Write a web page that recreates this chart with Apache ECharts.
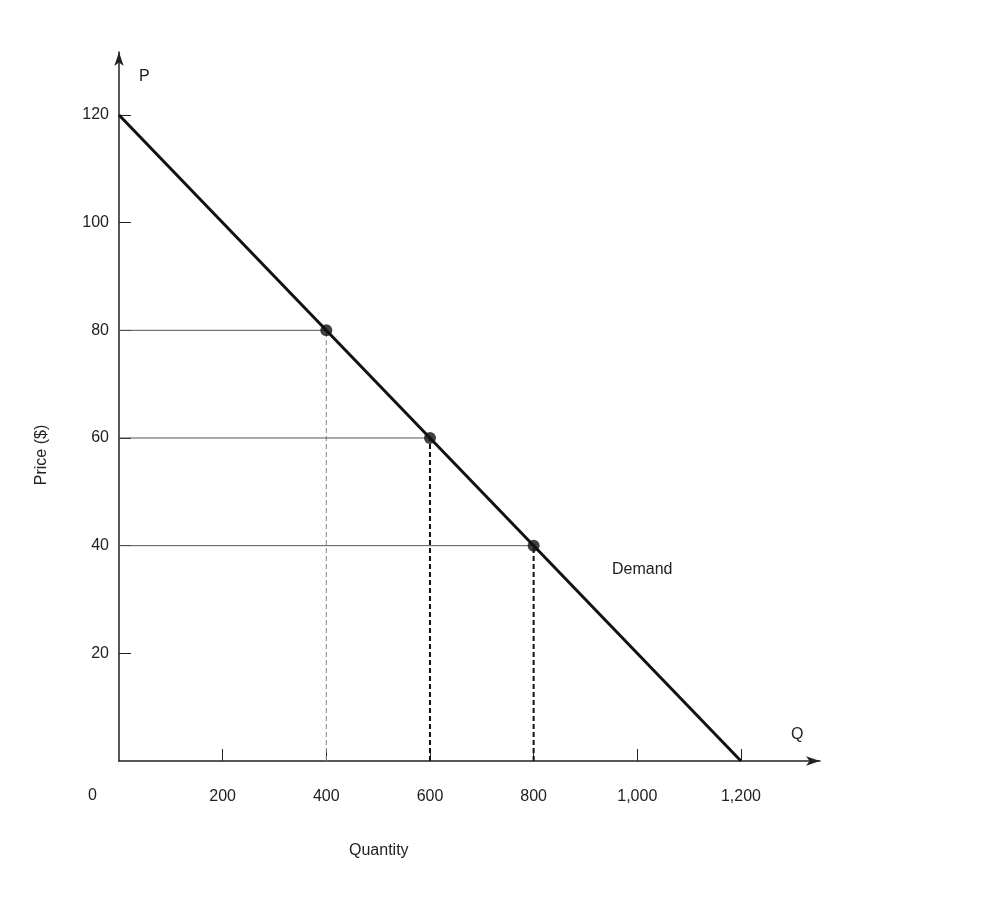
<!DOCTYPE html>
<html><head><meta charset="utf-8">
<script src="https://cdn.jsdelivr.net/npm/echarts@6/dist/echarts.min.js"></script>
<style>html,body{margin:0;padding:0;background:#fff}#c{width:983px;height:912px}</style>
</head><body><div id="c"></div>
<script>
const demand = [[0,120],[1200,0]];
const points = [[400,80],[600,60],[800,40]];
const xTicks = [200,400,600,800,1000,1200];
const yTicks = [20,40,60,80,100,120];
const F = 'Liberation Sans, Arial, sans-serif';
const series = [];
points.forEach((p,i)=>{
  series.push({type:'line',data:[[0,p[1]],p],symbol:'none',lineStyle:{color:'#555',width:1},z:1});
  series.push({type:'line',data:[[p[0],0],p],symbol:'none',lineStyle:{color:i===0?'#888':'#111',width:i===0?1:2,type:[5,3]},z:1});
});
series.push({type:'line',data:demand,symbol:'none',lineStyle:{color:'#111',width:3},z:2});
series.push({type:'scatter',data:points,symbolSize:12,itemStyle:{color:'#111'},z:3});
const chart = echarts.init(document.getElementById('c'));
chart.setOption({
  animation:false,
  grid:{left:119,top:52,width:701,height:709},
  xAxis:{type:'value',min:0,max:1352.5,splitLine:{show:false},
    axisLine:{symbol:['none','arrow'],symbolSize:[7,14],lineStyle:{color:'#222',width:1.5}},
    axisTick:{inside:true,length:12,customValues:xTicks,lineStyle:{color:'#222'}},
    axisLabel:{customValues:xTicks,margin:28,color:'#222',fontFamily:F,fontSize:16,
      formatter:v=>v.toLocaleString('en-US')}},
  yAxis:{type:'value',min:0,max:131.7,splitLine:{show:false},
    axisLine:{symbol:['none','arrow'],symbolSize:[7,14],lineStyle:{color:'#222',width:1.5}},
    axisTick:{inside:true,length:12,customValues:yTicks,lineStyle:{color:'#222'}},
    axisLabel:{customValues:yTicks,margin:10,color:'#222',fontFamily:F,fontSize:16}},
  graphic:[
    {type:'text',left:88,top:788,style:{text:'0',fontSize:16,fontFamily:F,fill:'#222'}},
    {type:'text',left:139,top:69,style:{text:'P',fontSize:16,fontFamily:F,fill:'#222'}},
    {type:'text',left:791,top:727,style:{text:'Q',fontSize:16,fontFamily:F,fill:'#222'}},
    {type:'text',left:612,top:562,style:{text:'Demand',fontSize:16,fontFamily:F,fill:'#222'}},
    {type:'text',left:349,top:843,style:{text:'Quantity',fontSize:16,fontFamily:F,fill:'#222'}},
    {type:'text',x:42,y:455,rotation:Math.PI/2,style:{text:'Price ($)',fontSize:16,fontFamily:F,fill:'#222',align:'center',verticalAlign:'middle'}}
  ],
  series
});
</script></body></html>
